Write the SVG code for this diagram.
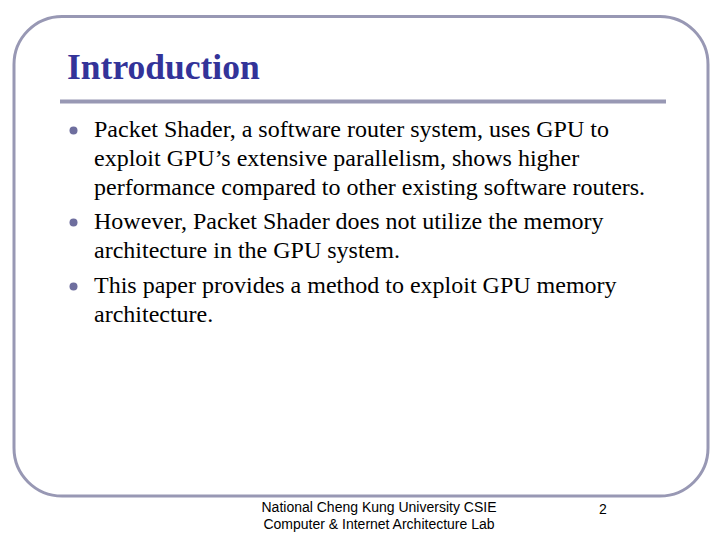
<svg xmlns="http://www.w3.org/2000/svg" width="720" height="540" viewBox="0 0 720 540">
<style>
.frame{fill:none;stroke:#9898b4;stroke-width:3}
.body{font-family:"Liberation Serif","Times New Roman",serif;font-size:24px;fill:#000}
.bul{fill:#6e6e9e}
.foot{font-family:"Liberation Sans",Arial,sans-serif;font-size:14px;fill:#000}
</style>
<rect width="720" height="540" fill="#fff"/>
<g id="frame">
<path class="frame" d="M62,16.5 H660 A48,48 0 0 1 708,64.5 V448 A48,48 0 0 1 660,496 H62 A48,48 0 0 1 14,448 V64.5 A48,48 0 0 1 62,16.5 Z"/>
<line x1="60" y1="101.5" x2="666" y2="101.5" stroke="#9898b4" stroke-width="4"/>
</g>
<g id="title">
<text x="67" y="79" font-family="Liberation Serif,'Times New Roman',serif" font-weight="bold" font-size="35.5" fill="#333399">Introduction</text>
</g>
<g id="bullets">
<circle class="bul" cx="73.5" cy="130.5" r="4"/>
<circle class="bul" cx="73.5" cy="222.5" r="4"/>
<circle class="bul" cx="73.5" cy="286.5" r="4"/>
<text class="body" x="94" y="137">Packet Shader, a software router system, uses GPU to</text>
<text class="body" x="94" y="166">exploit GPU’s extensive parallelism, shows higher</text>
<text class="body" x="94" y="195">performance compared to other existing software routers.</text>
<text class="body" x="94" y="229">However, Packet Shader does not utilize the memory</text>
<text class="body" x="94" y="258">architecture in the GPU system.</text>
<text class="body" x="94" y="293">This paper provides a method to exploit GPU memory</text>
<text class="body" x="94" y="322">architecture.</text>
</g>
<g id="footer">
<text class="foot" x="379" y="512" text-anchor="middle">National Cheng Kung University CSIE</text>
<text class="foot" x="379" y="529" text-anchor="middle">Computer &amp; Internet Architecture Lab</text>
<text class="foot" x="603" y="514" text-anchor="middle">2</text>
</g>
</svg>
